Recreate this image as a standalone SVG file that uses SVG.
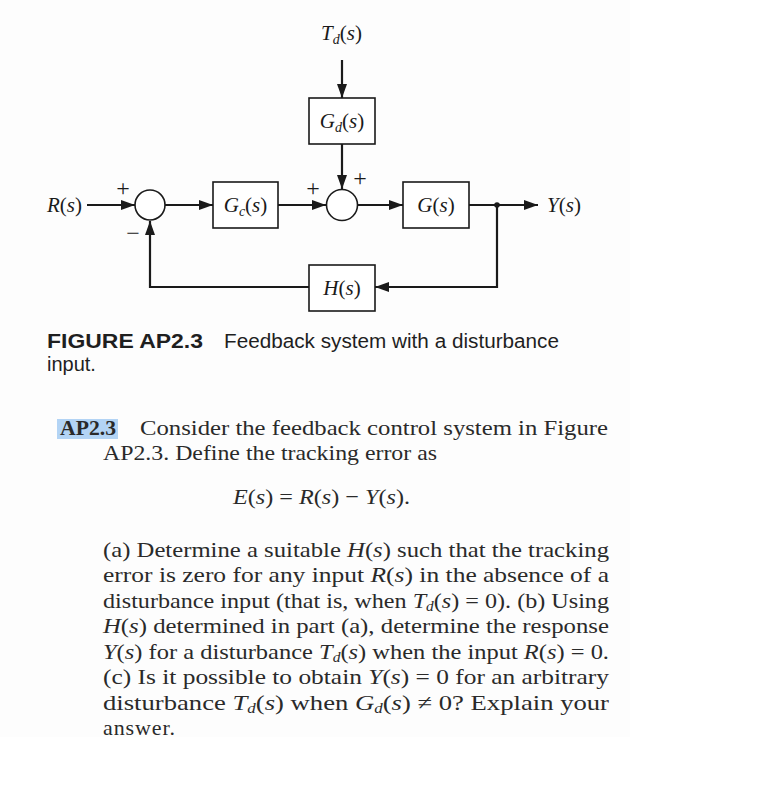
<svg xmlns="http://www.w3.org/2000/svg" width="759" height="785" viewBox="0 0 759 785">
<defs>
<marker id="ah" viewBox="0 0 14 10" refX="14" refY="5" markerWidth="14" markerHeight="10" markerUnits="userSpaceOnUse" orient="auto">
<path d="M0,0 L14,5 L0,10 Z" fill="#1a1a1a"/>
</marker>
<style>
.ln{fill:none;stroke:#1a1a1a;stroke-width:2.2}
.bx{fill:#fff;stroke:#1a1a1a;stroke-width:1.6}
.lb{font-family:"Liberation Serif",serif;font-size:21px;fill:#1a1a1a}
.it{font-style:italic}
.sg{font-family:"Liberation Serif",serif;font-size:24px;fill:#1a1a1a}
.cap{font-family:"Liberation Sans",Arial,sans-serif;font-size:20px;fill:#1f1f1f}
.tx{font-family:"Liberation Serif",serif;font-size:22px;fill:#2a2a2a}
</style>
</defs>
<rect x="0" y="0" width="759" height="785" fill="#ffffff"/>
<rect x="0" y="0" width="630" height="737" fill="#fdfdfd"/>

<g id="connectors">
<line class="ln" x1="87" y1="205" x2="135" y2="205" marker-end="url(#ah)"/>
<line class="ln" x1="165" y1="205" x2="213" y2="205" marker-end="url(#ah)"/>
<line class="ln" x1="278" y1="205" x2="326" y2="205" marker-end="url(#ah)"/>
<line class="ln" x1="358" y1="205" x2="403" y2="205" marker-end="url(#ah)"/>
<line class="ln" x1="469" y1="205" x2="538" y2="205" marker-end="url(#ah)"/>
<line class="ln" x1="342" y1="60" x2="342" y2="98" marker-end="url(#ah)"/>
<line class="ln" x1="342" y1="144" x2="342" y2="189" marker-end="url(#ah)"/>
<polyline class="ln" points="497,205 497,287 375,287" marker-end="url(#ah)"/>
<polyline class="ln" points="309,287 150,287 150,221" marker-end="url(#ah)"/>
<circle cx="497" cy="205" r="2.8" fill="#1a1a1a"/>
</g>

<g id="sum1">
<circle cx="150" cy="205" r="15" fill="#fff" stroke="#1a1a1a" stroke-width="1.6"/>
<text class="sg" x="123" y="196" text-anchor="middle">+</text>
<text class="sg" x="133" y="241" text-anchor="middle">−</text>
</g>
<g id="sum2">
<circle cx="342" cy="205" r="15.5" fill="#fff" stroke="#1a1a1a" stroke-width="1.6"/>
<text class="sg" x="313" y="196" text-anchor="middle">+</text>
<text class="sg" x="360" y="186" text-anchor="middle">+</text>
</g>

<g id="input-R">
<text class="lb" x="47" y="212"><tspan class="it">R</tspan>(<tspan class="it">s</tspan>)</text>
</g>
<g id="output-Y">
<text class="lb" x="547" y="212"><tspan class="it">Y</tspan>(<tspan class="it">s</tspan>)</text>
</g>
<g id="input-Td">
<text class="lb" x="321" y="40"><tspan class="it">T</tspan><tspan class="it" font-size="14" dy="4">d</tspan><tspan dy="-4">(</tspan><tspan class="it">s</tspan>)</text>
</g>

<g id="box-Gd">
<rect class="bx" x="309" y="98" width="66" height="46"/>
<text class="lb" x="342" y="128" text-anchor="middle"><tspan class="it">G</tspan><tspan class="it" font-size="14" dy="4">d</tspan><tspan dy="-4">(</tspan><tspan class="it">s</tspan>)</text>
</g>
<g id="box-Gc">
<rect class="bx" x="213" y="182" width="65" height="46"/>
<text class="lb" x="245.5" y="212" text-anchor="middle"><tspan class="it">G</tspan><tspan class="it" font-size="14" dy="4">c</tspan><tspan dy="-4">(</tspan><tspan class="it">s</tspan>)</text>
</g>
<g id="box-G">
<rect class="bx" x="403" y="182" width="66" height="46"/>
<text class="lb" x="436" y="212" text-anchor="middle"><tspan class="it">G</tspan>(<tspan class="it">s</tspan>)</text>
</g>
<g id="box-H">
<rect class="bx" x="309" y="265" width="66" height="46"/>
<text class="lb" x="342" y="295" text-anchor="middle"><tspan class="it">H</tspan>(<tspan class="it">s</tspan>)</text>
</g>

<g id="caption">
<text class="cap" x="47" y="348" font-weight="bold" textLength="156" lengthAdjust="spacingAndGlyphs">FIGURE AP2.3</text>
<text class="cap" x="224" y="348" textLength="335" lengthAdjust="spacingAndGlyphs">Feedback system with a disturbance</text>
<text class="cap" x="47" y="371">input.</text>
</g>

<g id="problem">
<rect x="57" y="419" width="61" height="20" fill="#b3d4f5"/>
<text class="tx" x="60" y="435" font-weight="bold" textLength="56" lengthAdjust="spacingAndGlyphs">AP2.3</text>
<text class="tx" x="140" y="435" textLength="468" lengthAdjust="spacingAndGlyphs">Consider the feedback control system in Figure</text>
<text class="tx" x="103" y="460" textLength="334" lengthAdjust="spacingAndGlyphs">AP2.3. Define the tracking error as</text>
<text class="tx" x="233" y="504" textLength="177" lengthAdjust="spacingAndGlyphs"><tspan class="it">E</tspan>(<tspan class="it">s</tspan>) = <tspan class="it">R</tspan>(<tspan class="it">s</tspan>) − <tspan class="it">Y</tspan>(<tspan class="it">s</tspan>).</text>

<text class="tx" x="103" y="557" textLength="506" lengthAdjust="spacingAndGlyphs">(a) Determine a suitable <tspan class="it">H</tspan>(<tspan class="it">s</tspan>) such that the tracking</text>
<text class="tx" x="103" y="582" textLength="506" lengthAdjust="spacingAndGlyphs">error is zero for any input <tspan class="it">R</tspan>(<tspan class="it">s</tspan>) in the absence of a</text>
<text class="tx" x="103" y="608" textLength="506" lengthAdjust="spacingAndGlyphs">disturbance input (that is, when <tspan class="it">T</tspan><tspan class="it" font-size="14" dy="3">d</tspan><tspan dy="-3">(</tspan><tspan class="it">s</tspan>) = 0). (b) Using</text>
<text class="tx" x="103" y="633" textLength="506" lengthAdjust="spacingAndGlyphs"><tspan class="it">H</tspan>(<tspan class="it">s</tspan>) determined in part (a), determine the response</text>
<text class="tx" x="103" y="659" textLength="506" lengthAdjust="spacingAndGlyphs"><tspan class="it">Y</tspan>(<tspan class="it">s</tspan>) for a disturbance <tspan class="it">T</tspan><tspan class="it" font-size="14" dy="3">d</tspan><tspan dy="-3">(</tspan><tspan class="it">s</tspan>) when the input <tspan class="it">R</tspan>(<tspan class="it">s</tspan>) = 0.</text>
<text class="tx" x="103" y="684" textLength="506" lengthAdjust="spacingAndGlyphs">(c) Is it possible to obtain <tspan class="it">Y</tspan>(<tspan class="it">s</tspan>) = 0 for an arbitrary</text>
<text class="tx" x="103" y="710" textLength="506" lengthAdjust="spacingAndGlyphs">disturbance <tspan class="it">T</tspan><tspan class="it" font-size="14" dy="3">d</tspan><tspan dy="-3">(</tspan><tspan class="it">s</tspan>) when <tspan class="it">G</tspan><tspan class="it" font-size="14" dy="3">d</tspan><tspan dy="-3">(</tspan><tspan class="it">s</tspan>) ≠ 0? Explain your</text>
<text class="tx" x="103" y="735" textLength="72" lengthAdjust="spacing">answer.</text>
</g>
</svg>
